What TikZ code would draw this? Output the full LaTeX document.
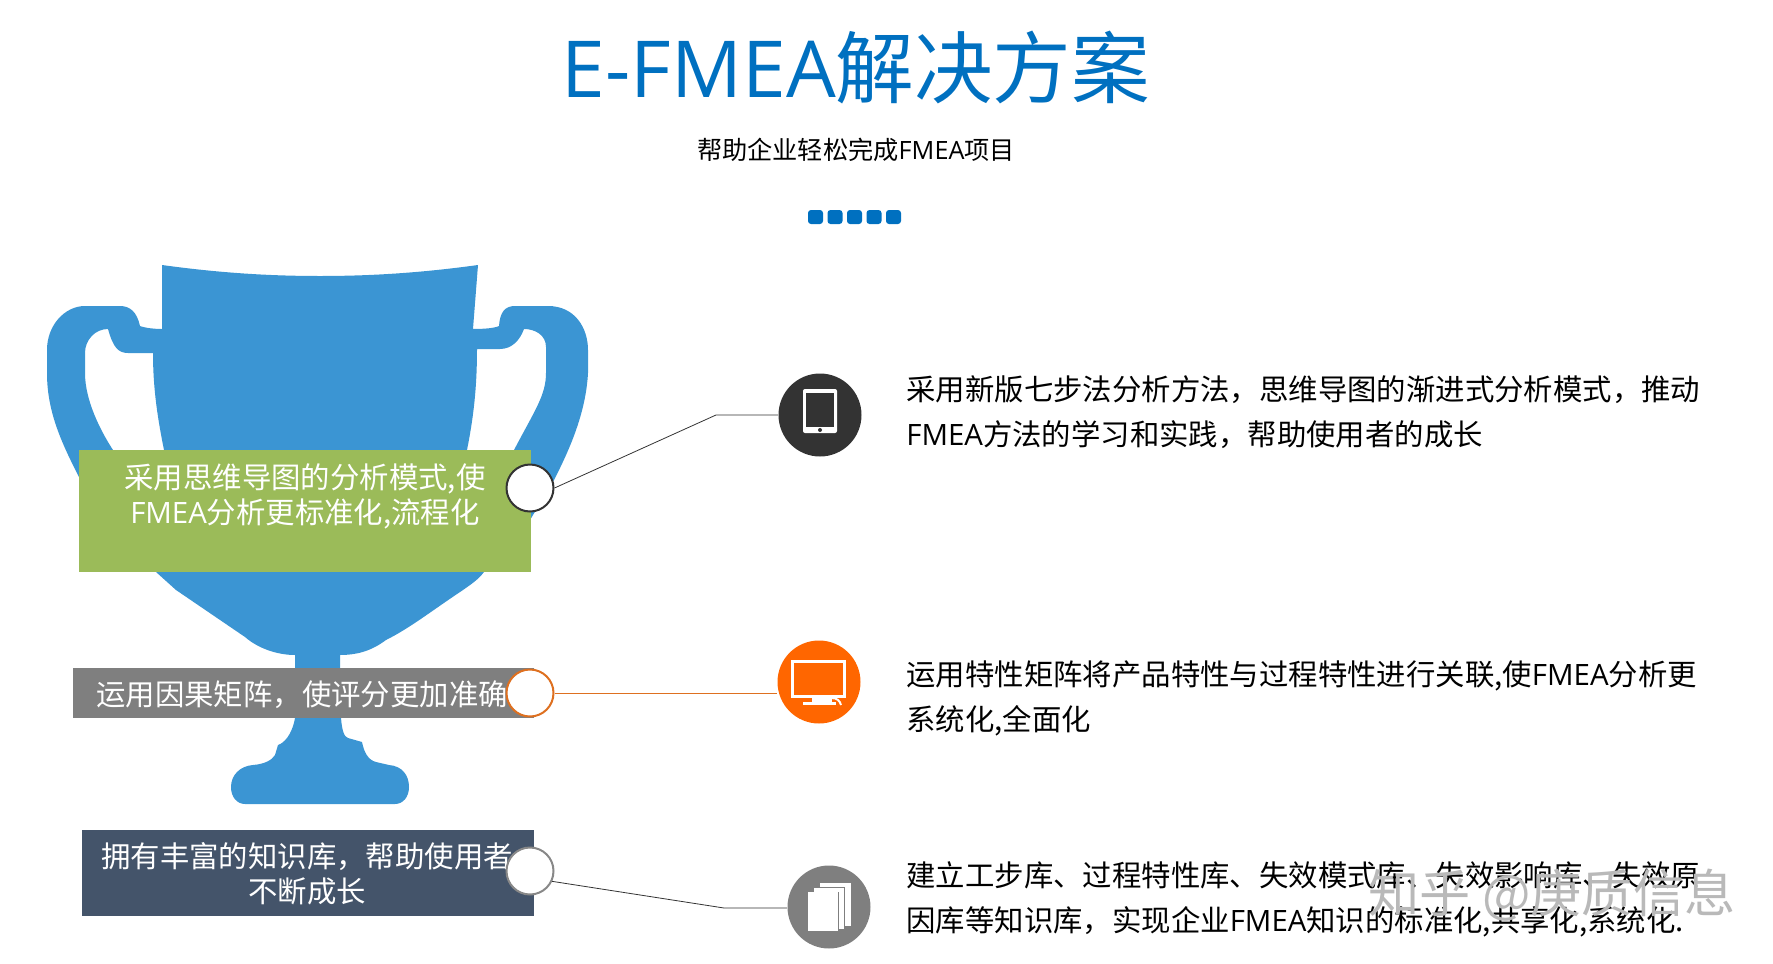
\documentclass[tikz,border=0pt]{standalone}
\usepackage{fontspec}
\usepackage{xcolor}
\setmainfont{Noto Sans CJK SC}
\newfontfamily\latinfont{Open Sans}
\usetikzlibrary{positioning, calc}
\definecolor{cupBlue}{RGB}{59, 149, 211}
\definecolor{titleBlue}{RGB}{0, 112, 192}
\definecolor{panelGreen}{RGB}{155, 187, 89}
\definecolor{panelGray}{RGB}{127, 127, 127}
\definecolor{panelNavy}{RGB}{68, 84, 106}
\definecolor{iconDark}{RGB}{51, 51, 51}
\definecolor{iconOrange}{RGB}{255, 102, 0}
\definecolor{lineOrange}{RGB}{222, 112, 32}
\definecolor{markGray}{RGB}{136, 136, 136}
\newcommand{\fmea}{{\latinfont FMEA}}
\tikzset{
    panel/.style={
        rectangle,
        minimum height=#1,
        inner sep=0pt
    },
    paneltext/.style={
        font=\fontsize{14.7pt}{17.5pt}\selectfont,
        text=white,
        align=center,
        inner sep=0pt
    },
    marker/.style={
        circle,
        fill=white,
        line width=1pt,
        minimum size=23.5pt,
        inner sep=0pt
    },
    icon/.style={
        circle,
        minimum size=41.5pt,
        inner sep=0pt
    },
    lead/.style={
        line width=0.4pt,
        color=iconDark
    },
    desc/.style={
        font=\fontsize{14.7pt}{22.6pt}\selectfont,
        text=black,
        align=left,
        anchor=north west,
        inner sep=0pt
    },
    dot/.style={
        fill=titleBlue,
        rounded corners=1.5pt
    }
}
\begin{document}
\begin{tikzpicture}[x=0.5pt, y=-0.5pt]
  \useasboundingbox (0,0) rectangle (1773,964);

  % Heading
  \node[font=\fontsize{39.3pt}{44pt}\selectfont, text=titleBlue, inner sep=0pt] (title) at (856,68) {{\latinfont E-FMEA}解决方案};
  \node[font=\fontsize{12.6pt}{15pt}\selectfont, inner sep=0pt] (subtitle) at (856,150) {帮助企业轻松完成\fmea{}项目};
  \foreach \i in {0,...,4}
    \fill[dot] ({808+\i*19.5},210) rectangle +(15,14);

  % Trophy
  \fill[cupBlue] (162,265) .. controls (220,273) and (270,276) .. (320,276)
    .. controls (370,276) and (420,273) .. (478,265) -- (473,329)
    .. controls (485,329) and (495,328) .. (499,326)
    .. controls (500,312) and (505,306) .. (515,306) -- (548,306)
    .. controls (575,306) and (588,328) .. (588,350) -- (588,373)
    .. controls (586,410) and (572,445) .. (554,480) -- (530,520) -- (500,480) -- (514,450)
    .. controls (535,410) and (546,395) .. (546,373) -- (546,347)
    .. controls (546,335) and (535,329) .. (524,329)
    .. controls (520,340) and (512,349) .. (500,349) -- (477,349)
    .. controls (477,390) and (473,420) .. (467,450) -- (484,572)
    .. controls (478,580) and (470,585) .. (463,590)
    .. controls (430,612) and (410,628) .. (386,640)
    .. controls (370,652) and (355,655) .. (340,655) -- (341,718)
    .. controls (342,730) and (344,737) .. (348,738) -- (362,742)
    .. controls (364,752) and (368,760) .. (376,762) -- (389,765)
    .. controls (402,766) and (409,775) .. (409,787)
    .. controls (409,797) and (403,804) .. (395,804) -- (245,804)
    .. controls (237,804) and (231,797) .. (231,787)
    .. controls (231,775) and (240,766) .. (253,765)
    .. controls (265,764) and (272,760) .. (275,755) -- (278,745)
    .. controls (284,743) and (292,735) .. (295,718) -- (295,655)
    .. controls (280,655) and (260,650) .. (245,637) -- (176,590) -- (156,572) -- (164,450)
    .. controls (158,420) and (153,390) .. (153,353) -- (128,353)
    .. controls (118,353) and (113,347) .. (108,329)
    .. controls (95,329) and (85,340) .. (85,353) -- (85,373)
    .. controls (85,400) and (100,430) .. (113,450) -- (95,510) -- (79,477)
    .. controls (60,440) and (47,410) .. (47,373) -- (47,350)
    .. controls (47,325) and (65,306) .. (85,306) -- (120,306)
    .. controls (130,306) and (137,312) .. (140,326)
    .. controls (145,328) and (155,329) .. (162,329) -- cycle;

  % Panels
  \node[panel=61pt, fill=panelGreen, minimum width=226pt] (boxa) at (305,511) {};
  \node[paneltext] (texta) at (305,496) {采用思维导图的分析模式,使\\\fmea{}分析更标准化,流程化};
  \node[panel=25pt, fill=panelGray, minimum width=230.5pt] (boxb) at (303.5,693) {};
  \node[paneltext] (textb) at (302,695) {运用因果矩阵，使评分更加准确};
  \node[panel=43pt, fill=panelNavy, minimum width=226pt] (boxc) at (308,873) {};
  \node[paneltext] (textc) at (307,874) {拥有丰富的知识库，帮助使用者\\不断成长};

  % Markers
  \node[marker, draw=iconDark] (markera) at (530,488) {};
  \node[marker, draw=lineOrange] (markerb) at (530,693) {};
  \node[marker, draw=markGray] (markerc) at (530,871) {};

  % Icons
  \node[icon, fill=iconDark] (icona) at (820,415) {};
  \node[icon, fill=iconOrange] (iconb) at (819,682) {};
  \node[icon, fill=panelGray] (iconc) at (829,907) {};

  % Tablet
  \fill[white, rounded corners=1pt] (803,389) rectangle (837,433);
  \fill[iconDark] (806,393) rectangle (834,427);
  \fill[iconDark] (820,430) circle (1pt);

  % Monitor
  \draw[white, line width=1.5pt] (792.5,661.5) rectangle (844.5,696.5);
  \fill[white] (812,698) rectangle (832,702);
  \fill[white] (803,702) rectangle (836,705);
  \draw[white, line width=1pt] (832,698) .. controls (837,698) and (840,701) .. (841,705);

  % Pages
  \foreach \x/\y/\h in {820/883/42, 813/887/42, 808/892/39}
    \draw[white, fill=white] (\x,\y) rectangle +(30,\h);
  \draw[panelGray, line width=0.5pt] (813,887) rectangle +(31,42);
  \draw[panelGray, line width=0.5pt] (808,892) rectangle +(30,39);
  \fill[white] (808,892) rectangle +(30,39);

  % Connectors
  \coordinate (kinka) at (716,415);
  \coordinate (kinkc) at (724,908);
  \draw[lead] (markera.east) -- (kinka) -- (icona.west);
  \draw[lead, color=lineOrange] (markerb.east) -- (markerb.east -| iconb.west);
  \draw[lead] (markerc.-25) -- (kinkc) -- (kinkc -| iconc.west);

  % Descriptions
  \node[desc] (desca) at (906,375) {采用新版七步法分析方法，思维导图的渐进式分析模式，推动\\\fmea{}方法的学习和实践，帮助使用者的成长};
  \node[desc] (descb) at (906,660) {运用特性矩阵将产品特性与过程特性进行关联,使\fmea{}分析更\\系统化,全面化};
  \node[desc] (descc) at (906,861) {建立工步库、过程特性库、失效模式库、失效影响库、失效原\\因库等知识库，实现企业\fmea{}知识的标准化,共享化,系统化.};

  % Watermark
  \node[font=\fontsize{25.6pt}{28pt}\selectfont, text=gray!55, inner sep=0pt] (mark) at (1552,895) {知乎 @庚质信息};
\end{tikzpicture}
\end{document}
